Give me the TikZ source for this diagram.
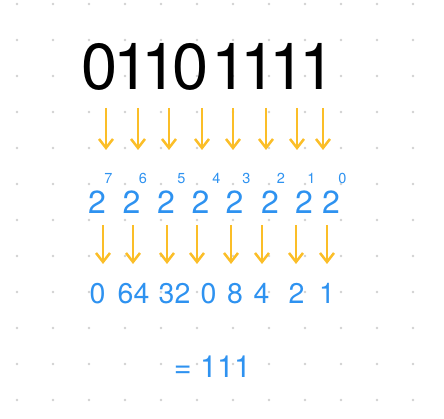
\documentclass[tikz,border=0pt]{standalone}
\usepackage{fontspec}
\setmainfont{TeX Gyre Heros}
\usetikzlibrary{arrows.meta,positioning}
\definecolor{bitblue}{RGB}{46,146,240}
\definecolor{arrowyellow}{RGB}{251,190,40}
\tikzset{
    bit/.style={
        anchor=base,
        inner sep=0pt,
        font=\fontsize{65}{65}\selectfont,
    },
    base/.style={
        anchor=base,
        inner sep=0pt,
        text=bitblue,
        font=\fontsize{32}{32}\selectfont,
    },
    power/.style={
        anchor=base,
        inner sep=0pt,
        text=bitblue,
        font=\fontsize{14.5}{14.5}\selectfont,
    },
    value/.style={
        anchor=base,
        inner sep=0pt,
        text=bitblue,
        font=\fontsize{28.5}{28.5}\selectfont,
    },
    down/.style={
        draw=arrowyellow,
        line width=2.5pt,
        -{Straight Barb[length=9pt,width=14pt,line width=2.5pt]},
    },
}
\begin{document}
\begin{tikzpicture}[x=1pt,y=-1pt]
    \useasboundingbox (0,0) rectangle (444,419);
    % dot grid
    \foreach \i in {0,...,11}
        \foreach \j in {0,...,11}
            \fill[black!18] (17+36*\i,4+36*\j) circle (1.3);

    % binary number
    \foreach \x/\b [count=\k] in {99.5/0,132/1,160/1,191/0,230/1,259/1,288/1,318/1}
        \node [bit] (b\k) at (\x,90) {\b};

    % powers of two
    \foreach \x/\e [count=\k] in {97/7,131.5/6,166/5,200.5/4,234.5/3,270/2,304/1,331/0}
        \node [base] (two\k) at (\x,213.5) {2};
    \foreach \x/\e [count=\k] in {108.5/7,143/6,181.5/5,216.5/4,246.5/3,281/2,311.5/1,342.5/0}
        \node [power] (exp\k) at (\x,184) {\e};

    % place values
    \foreach \x/\v [count=\k] in {97.5/0,133.5/64,174.5/32,208.5/0,235/8,261.5/4,296.5/2,327/1}
        \node [value] (val\k) at (\x,303.5) {\v};

    \node [value,font=\fontsize{30.5}{30.5}\selectfont] (sum) at (212.5,377) {= 111};

    % arrows bit -> power
    \foreach \x [count=\k] in {106,138,169,202,233,266,297,323} {
        \coordinate (top\k) at (\x,108);
        \coordinate (mid\k) at (\x,150);
        \draw [down] (top\k) -- (mid\k);
    }
    % arrows power -> value
    \foreach \x [count=\k] in {103,133,167,197,231,262,296,327} {
        \coordinate (pow\k) at (\x,225);
        \coordinate (bot\k) at (\x,264);
        \draw [down] (pow\k) -- (bot\k);
    }
\end{tikzpicture}
\end{document}
